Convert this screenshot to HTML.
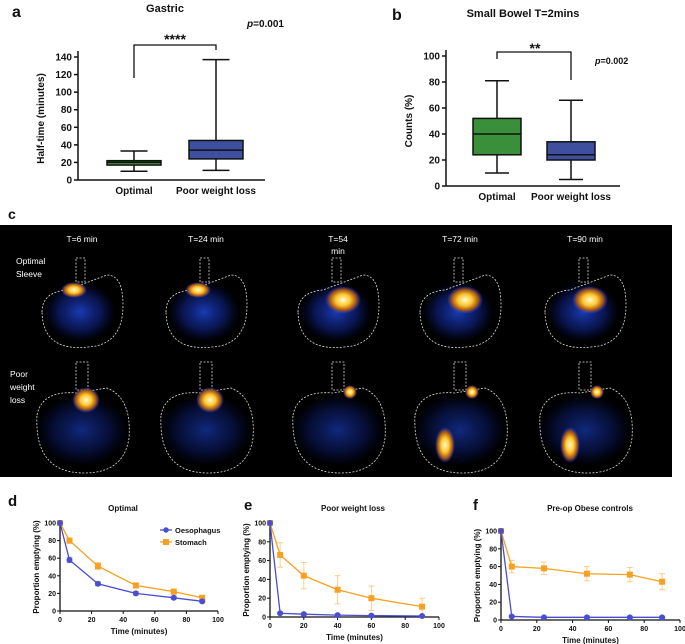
<!DOCTYPE html>
<html><head><meta charset="utf-8">
<style>
body{margin:0;background:#fff;width:685px;height:644px;overflow:hidden;font-family:"Liberation Sans",Arial,sans-serif}
svg{position:absolute;left:0;top:0}
text{font-family:"Liberation Sans",Arial,sans-serif;font-weight:bold;fill:#111}
</style></head>
<body>
<svg id="s" width="685" height="644">
<defs>
<radialGradient id="blue" cx="50%" cy="50%" r="50%"><stop offset="0" stop-color="#1f4ae0" stop-opacity="0.8"/><stop offset="0.6" stop-color="#1530b0" stop-opacity="0.45"/><stop offset="1" stop-color="#0a1a80" stop-opacity="0"/></radialGradient>
<radialGradient id="hot" cx="50%" cy="50%" r="50%"><stop offset="0" stop-color="#fffbd0"/><stop offset="0.4" stop-color="#ffc830"/><stop offset="0.75" stop-color="#a05010"/><stop offset="1" stop-color="#2040ff" stop-opacity="0"/></radialGradient>
</defs>
<g id="scan"></g>
<g id="charts"></g>
</svg>
<script>
// ---- data ----
const aCats=["Optimal","Poor weight loss"];
const aMin=[10,11], aQ1=[17,24], aMed=[20,34], aQ3=[22,45], aMax=[33,137];
const aTicks=[0,20,40,60,80,100,120,140];
const bCats=["Optimal","Poor weight loss"];
const bMin=[10,5], bQ1=[24,20], bMed=[40,24], bQ3=[52,34], bMax=[81,66];
const bTicks=[0,20,40,60,80,100];
const dTimes=[0,6,24,48,72,90];
const dOes=[100,58,31,20,15,11], dOesErr=[0,3,2,2,1.5,1.5];
const dSto=[100,80,51,29,22,15], dStoErr=[0,3,4,3,3,2];
const eTimes=[0,6,20,40,60,90];
const eOes=[100,4,3,2,1.5,1], eOesErr=[0,1,1,1,1,1];
const eSto=[100,66,44,29,20,11], eStoErr=[0,13,14,15,13,9];
const fTimes=[0,6,24,48,72,90];
const fOes=[100,4,3,3,3,3], fOesErr=[0,1,1,1,1,1];
const fSto=[100,60,58,52,51,43], fStoErr=[0,7,7,8,8,9];
const xTicks=[0,20,40,60,80,100];
const scanTimes=["T=6 min","T=24 min","T=54","T=72 min","T=90 min"];

const NS="http://www.w3.org/2000/svg";
const root=document.getElementById('charts');
function el(tag,attrs,parent,txt){const e=document.createElementNS(NS,tag);for(const k in attrs)e.setAttribute(k,attrs[k]);if(txt!==undefined)e.textContent=txt;(parent||root).appendChild(e);return e;}
function T(x,y,s,size,anchor,parent,extra){const t=el('text',Object.assign({x:x,y:y,'font-size':size,'text-anchor':anchor||'middle'},extra||{}),parent,s);return t;}

// ---- box plots ----
function boxPlot(g,o){
  const ys=v=>o.y0-(v/o.ymax)*(o.y0-o.ytop);
  const ax=el('line',{x1:o.x0,y1:ys(o.ymax)-6,x2:o.x0,y2:o.y0,stroke:'#111','stroke-width':1.5},g);
  
  const xa=el('line',{x1:o.x0,y1:o.y0,x2:o.x1,y2:o.y0,stroke:'#111','stroke-width':1.5},g);
  
  o.ticks.forEach(t=>{
    el('line',{x1:o.x0-4,y1:ys(t),x2:o.x0,y2:ys(t),stroke:'#111','stroke-width':1.5},g);
    const tl=T(o.x0-6,ys(t)+3.5,t,10,'end',g);
    
  });
  o.cats.forEach((c,i)=>{
    const cx=o.cx[i],hw=o.hw;
    const bg=el('g',{},g);
    
    
    el('line',{x1:cx,y1:ys(o.min[i]),x2:cx,y2:ys(o.max[i]),stroke:'#111','stroke-width':1.5},bg);
    el('line',{x1:cx-hw/2,y1:ys(o.min[i]),x2:cx+hw/2,y2:ys(o.min[i]),stroke:'#111','stroke-width':1.5},bg);
    el('line',{x1:cx-hw/2,y1:ys(o.max[i]),x2:cx+hw/2,y2:ys(o.max[i]),stroke:'#111','stroke-width':1.5},bg);
    el('rect',{x:cx-hw,y:ys(o.q3[i]),width:hw*2,height:ys(o.q1[i])-ys(o.q3[i]),fill:o.colors[i],stroke:'#111','stroke-width':1.5},bg);
    el('line',{x1:cx-hw,y1:ys(o.med[i]),x2:cx+hw,y2:ys(o.med[i]),stroke:'#111','stroke-width':1.5},bg);
    const xl=T(cx,o.y0+14,c,10,'middle',g);
    
  });
  const yt=T(0,0,o.ytitle,10,'middle',g,{transform:`translate(${o.x0-34},${(o.y0+o.ytop)/2}) rotate(-90)`});
  
  return ys;
}
const ga=el('g',{});
T(12,17,'a',16,'start',ga);
T(165,12,'Gastric',11,'middle',ga);
const pa=T(247,27,'',10,'start',ga);pa.innerHTML='<tspan font-style="italic">p</tspan>=0.001';
boxPlot(ga,{x0:78,x1:265,y0:180,ytop:57,ymax:140,ticks:aTicks,cats:aCats,cx:[134,216],hw:27,min:aMin,q1:aQ1,med:aMed,q3:aQ3,max:aMax,colors:['#3a9a3a','#3e4fa0'],ytitle:'Half-time (minutes)'});
el('polyline',{points:'134,78 134,45 216,45 216,50',fill:'none',stroke:'#111','stroke-width':1.3},ga);
T(175,44,'****',14,'middle',ga);

const gb=el('g',{});
T(392,20,'b',16,'start',gb);
T(523,17,'Small Bowel T=2mins',11,'middle',gb);
const pb=T(595,64,'',9,'start',gb);pb.innerHTML='<tspan font-style="italic">p</tspan>=0.002';
boxPlot(gb,{x0:446,x1:620,y0:186,ytop:56,ymax:100,ticks:bTicks,cats:bCats,cx:[497,571],hw:24,min:bMin,q1:bQ1,med:bMed,q3:bQ3,max:bMax,colors:['#3a8f3a','#3e4fa0'],ytitle:'Counts (%)'});
el('polyline',{points:'497,59 497,52 571,52 571,80',fill:'none',stroke:'#111','stroke-width':1.3},gb);
T(535,53,'**',14,'middle',gb);

// ---- line charts ----
function lineChart(g,o){
  const xs=v=>o.x0+v/100*(o.x1-o.x0), ys=v=>o.y0-v/100*(o.y0-o.ytop);
  el('line',{x1:o.x0,y1:ys(100)-2,x2:o.x0,y2:o.y0,stroke:'#111','stroke-width':1.3},g);
  el('line',{x1:o.x0,y1:o.y0,x2:o.x1,y2:o.y0,stroke:'#111','stroke-width':1.3},g);
  [0,20,40,60,80,100].forEach(t=>{el('line',{x1:o.x0-3,y1:ys(t),x2:o.x0,y2:ys(t),stroke:'#111'},g);
    const l=T(o.x0-4,ys(t)+2.5,t,7,'end',g);});
  xTicks.forEach(t=>{el('line',{x1:xs(t),y1:o.y0,x2:xs(t),y2:o.y0+3,stroke:'#111'},g);
    const l=T(xs(t),o.y0+11,t,7,'middle',g);});
  T((o.x0+o.x1)/2,o.y0+23,'Time (minutes)',8,'middle',g);
  if(o.ytitle){const yt=T(0,0,'Proportion emptying (%)',8,'middle',g,{transform:`translate(${o.x0-21},${(o.y0+o.ytop)/2}) rotate(-90)`});}
  [[o.sto,o.stoE,'#f7a021','sq','stomach'],[o.oes,o.oesE,'#4a4fd0','ci','oesophagus']].forEach(([v,e,c,m,n])=>{
    const sg=el('g',{},g);
    o.t.forEach((t,i)=>{if(e[i]>0){const x=xs(t);
      el('line',{x1:x,y1:ys(v[i]+e[i]),x2:x,y2:ys(v[i]-e[i]),stroke:c,'stroke-opacity':0.5},sg);
      el('line',{x1:x-3,y1:ys(v[i]+e[i]),x2:x+3,y2:ys(v[i]+e[i]),stroke:c,'stroke-opacity':0.5},sg);
      el('line',{x1:x-3,y1:ys(v[i]-e[i]),x2:x+3,y2:ys(v[i]-e[i]),stroke:c,'stroke-opacity':0.5},sg);}});
    el('polyline',{points:o.t.map((t,i)=>xs(t)+','+ys(v[i])).join(' '),fill:'none',stroke:c,'stroke-width':1.3},sg);
    o.t.forEach((t,i)=>{let p;
      if(m=='sq')p=el('rect',{x:xs(t)-3,y:ys(v[i])-3,width:6,height:6,fill:c},sg);
      else p=el('circle',{cx:xs(t),cy:ys(v[i]),r:3,fill:c},sg);
      });
  });
}
function panel(name,label,lx,ly,title,tx,ty){const g=el('g',{});
  T(lx,ly,label,15,'start',g);
  T(tx,ty,title,8,'middle',g);return g;}
const gd=panel('panel-d-optimal','d',8,506,'Optimal',123,511);
lineChart(gd,{x0:60,x1:218,y0:611,ytop:523,t:dTimes,oes:dOes,oesE:dOesErr,sto:dSto,stoE:dStoErr,ytitle:true});
const lg=el('g',{},gd);
el('line',{x1:160,y1:530,x2:172,y2:530,stroke:'#4a4fd0','stroke-width':1.3},lg);el('circle',{cx:166,cy:530,r:2.7,fill:'#4a4fd0'},lg);
T(175,533,'Oesophagus',7.5,'start',lg,{'font-weight':'normal'});
el('line',{x1:160,y1:542,x2:172,y2:542,stroke:'#f7a021','stroke-width':1.3},lg);el('rect',{x:163,y:539,width:6,height:6,fill:'#f7a021'},lg);
T(175,545,'Stomach',7.5,'start',lg,{'font-weight':'normal'});
const ge=panel('panel-e-poor-weight-loss','e',244,510,'Poor weight loss',353,511);
lineChart(ge,{x0:270,x1:439,y0:617,ytop:523,t:eTimes,oes:eOes,oesE:eOesErr,sto:eSto,stoE:eStoErr,ytitle:true});
const gf=panel('panel-f-pre-op-obese','f',473,510,'Pre-op Obese controls',590,511);
lineChart(gf,{x0:501,x1:680,y0:620,ytop:531,t:fTimes,oes:fOes,oesE:fOesErr,sto:fSto,stoE:fStoErr,ytitle:true});

// ---- scintigraphy panel (decorative) ----
const sc=document.getElementById('scan');
T(8,219,'c',14,'start',sc);
el('rect',{x:0,y:225,width:672,height:252,fill:'#000'},sc);
const cxs=[82,206,338,460,585];
scanTimes.forEach((s,i)=>{const t=T(cxs[i],242,s,8.5,'middle',sc,{style:'fill:#fff;font-weight:normal'});});
T(338,254,'min',8.5,'middle',sc,{style:'fill:#fff;font-weight:normal'});
[['Optimal',264],['Sleeve',277]].forEach(([s,y])=>T(16,y,s,8.5,'start',sc,{style:'fill:#fff;font-weight:normal'}));
[['Poor',377],['weight',390],['loss',403]].forEach(([s,y])=>T(10,y,s,8.5,'start',sc,{style:'fill:#fff;font-weight:normal'}));
cxs.forEach((cx,i)=>{
  el('ellipse',{cx:cx-2,cy:312,rx:36,ry:30,fill:'url(#blue)'},sc);
  el('path',{d:`M${cx-40} ${312} q0 -20 25 -22 l40 -15 q16 0 16 30 q0 40 -35 42 q-45 5 -46 -35z`,fill:'none',stroke:'#ddd','stroke-dasharray':'2,1.5','stroke-width':0.8},sc);
  el('rect',{x:cx-6,y:258,width:9,height:24,fill:'none',stroke:'#ddd','stroke-dasharray':'2,1.5','stroke-width':0.8},sc);
  el('ellipse',{cx:cx+(i>1?5:-8),cy:i>1?300:290,rx:i>1?18:13,ry:i>1?14:8,fill:'url(#hot)'},sc);
  el('ellipse',{cx:cx,cy:430,rx:46,ry:36,fill:'url(#blue)','fill-opacity':0.7},sc);
  el('path',{d:`M${cx-45} 415 q5 -25 40 -22 l30 -5 q25 10 22 50 q-5 35 -45 35 q-50 0 -47 -58z`,fill:'none',stroke:'#ddd','stroke-dasharray':'2,1.5','stroke-width':0.8},sc);
  el('rect',{x:cx-6,y:362,width:12,height:28,fill:'none',stroke:'#ddd','stroke-dasharray':'2,1.5','stroke-width':0.8},sc);
  el('ellipse',{cx:cx+(i<2?4:12),cy:i<2?400:392,rx:i<2?14:7,ry:i<2?13:7,fill:'url(#hot)'},sc);
  if(i>=3)el('ellipse',{cx:cx-15,cy:445,rx:10,ry:18,fill:'url(#hot)'},sc);
});
</script>
</body></html>
